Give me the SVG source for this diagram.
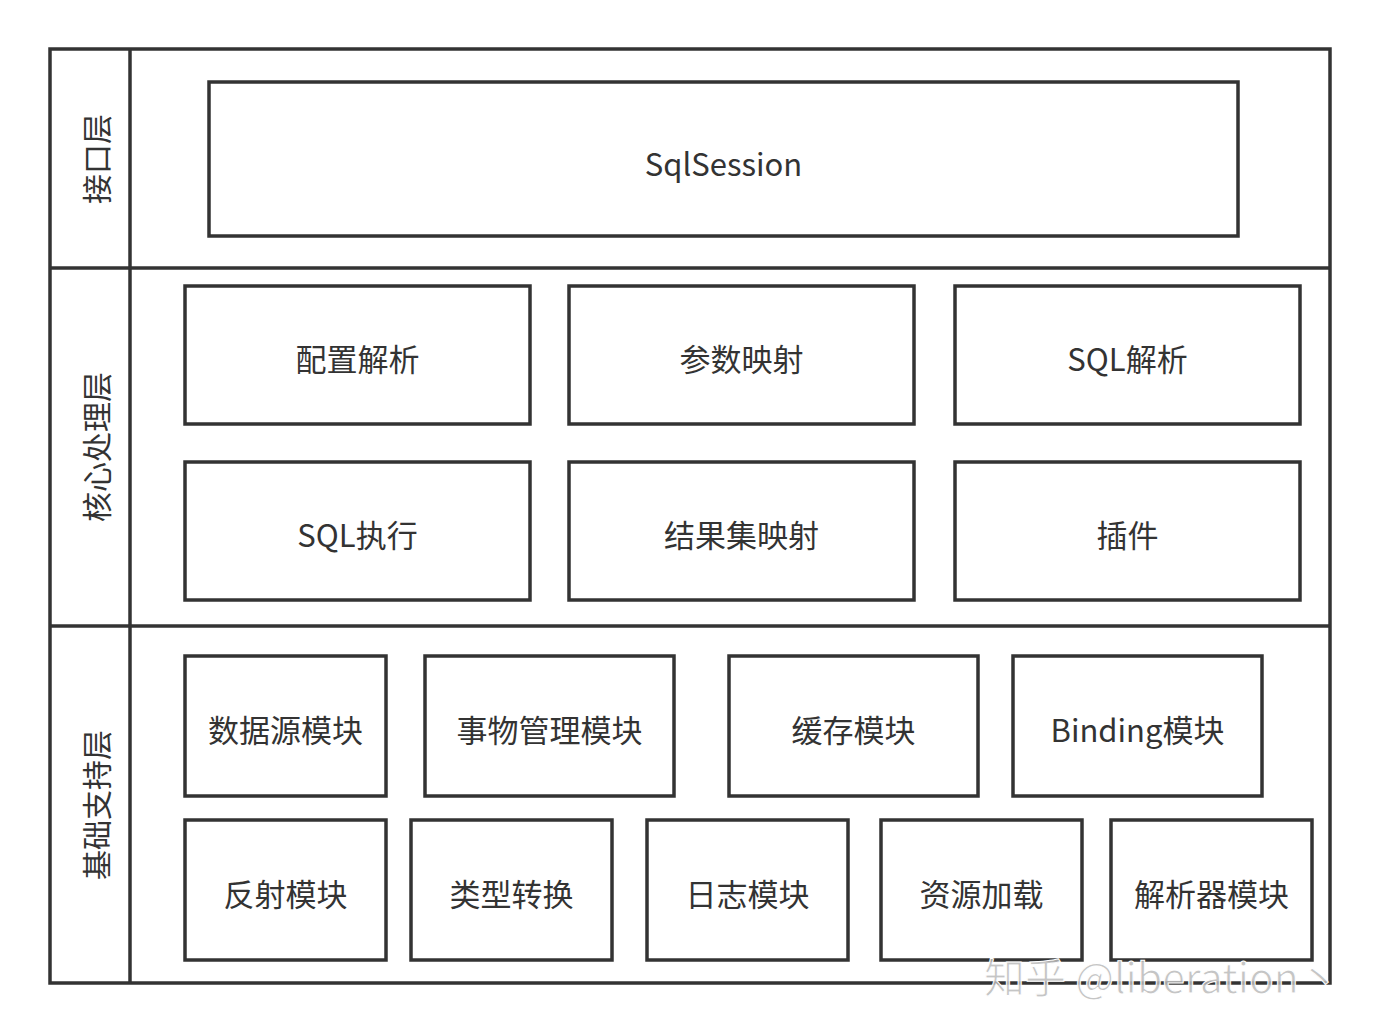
<svg xmlns="http://www.w3.org/2000/svg" width="1380" height="1034" viewBox="0 0 1380 1034">
<style>
.b{fill:#fff;stroke:#333;stroke-width:3.5}
.l{stroke:#333;stroke-width:3.5;fill:none}
.t{font-family:"Noto Sans CJK SC","Noto Sans",sans-serif;font-size:31px;fill:#333;text-anchor:middle;dominant-baseline:central}
.v{font-family:"Noto Sans CJK SC","Noto Sans",sans-serif;font-size:30px;fill:#333;text-anchor:middle;dominant-baseline:central}
.w{font-family:"Noto Sans CJK SC","Noto Sans",sans-serif;font-size:41px;fill:#bbb;stroke:#fff;stroke-width:1;fill-opacity:0.85}
</style>
<rect width="1380" height="1034" fill="#fff"/>
<g id="frame">
<rect class="l" x="50" y="49" width="1280" height="934"/>
<line class="l" x1="130" y1="49" x2="130" y2="983"/>
<line class="l" x1="50" y1="268" x2="1330" y2="268"/>
<line class="l" x1="50" y1="626" x2="1330" y2="626"/>
</g>
<g id="layer-interface"><text class="v" transform="translate(95,159) rotate(-90)">接口层</text></g>
<g id="layer-core"><text class="v" transform="translate(95,447) rotate(-90)">核心处理层</text></g>
<g id="layer-base"><text class="v" transform="translate(95,805) rotate(-90)">基础支持层</text></g>
<g id="sqlsession"><rect class="b" x="209" y="82" width="1029" height="154"/><text class="t" x="723.5" y="162">SqlSession</text></g>
<g id="config"><rect class="b" x="185" y="286" width="345" height="138"/><text class="t" x="357.5" y="357">配置解析</text></g>
<g id="param"><rect class="b" x="569" y="286" width="345" height="138"/><text class="t" x="741.5" y="357">参数映射</text></g>
<g id="sqlparse"><rect class="b" x="955" y="286" width="345" height="138"/><text class="t" x="1127.5" y="357">SQL解析</text></g>
<g id="sqlexec"><rect class="b" x="185" y="462" width="345" height="138"/><text class="t" x="357.5" y="533">SQL执行</text></g>
<g id="resultmap"><rect class="b" x="569" y="462" width="345" height="138"/><text class="t" x="741.5" y="533">结果集映射</text></g>
<g id="plugin"><rect class="b" x="955" y="462" width="345" height="138"/><text class="t" x="1127.5" y="533">插件</text></g>
<g id="datasource"><rect class="b" x="185" y="656" width="201" height="140"/><text class="t" x="285.5" y="728">数据源模块</text></g>
<g id="transaction"><rect class="b" x="425" y="656" width="249" height="140"/><text class="t" x="549.5" y="728">事物管理模块</text></g>
<g id="cache"><rect class="b" x="729" y="656" width="249" height="140"/><text class="t" x="853.5" y="728">缓存模块</text></g>
<g id="binding"><rect class="b" x="1013" y="656" width="249" height="140"/><text class="t" x="1137.5" y="728">Binding模块</text></g>
<g id="reflect"><rect class="b" x="185" y="820" width="201" height="140"/><text class="t" x="285.5" y="892">反射模块</text></g>
<g id="typeconv"><rect class="b" x="411" y="820" width="201" height="140"/><text class="t" x="511.5" y="892">类型转换</text></g>
<g id="log"><rect class="b" x="647" y="820" width="201" height="140"/><text class="t" x="747.5" y="892">日志模块</text></g>
<g id="resource"><rect class="b" x="881" y="820" width="201" height="140"/><text class="t" x="981.5" y="892">资源加载</text></g>
<g id="parser"><rect class="b" x="1111" y="820" width="201" height="140"/><text class="t" x="1211.5" y="892">解析器模块</text></g>
<g id="connectors"></g>
<text class="w" x="984" y="993">知乎 @liberation丶</text>
</svg>
